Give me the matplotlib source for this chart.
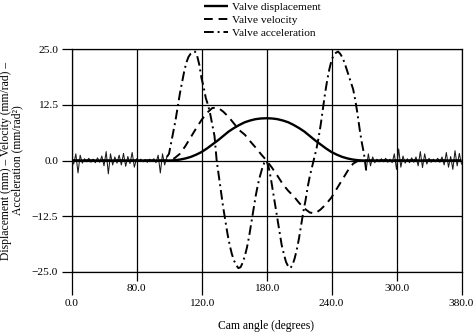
import numpy as np
import matplotlib
matplotlib.use("Agg")
import matplotlib.pyplot as plt

plt.rcParams['font.family'] = ['Liberation Serif', 'DejaVu Serif']

# ---------------- data ----------------
# cam angle grid (degrees) for displacement / velocity (5 deg step)
angle5 = np.arange(0, 365, 5)
displacement = [0]*18 + [
    0.0, 0.05, 0.2, 0.45, 0.8, 1.3, 1.9, 2.7, 3.6, 4.5, 5.5, 6.5, 7.3, 8.0, 8.6, 9.0, 9.3, 9.45,
    9.5,
    9.45, 9.3, 9.0, 8.6, 8.0, 7.3, 6.5, 5.5, 4.5, 3.6, 2.7, 1.9, 1.3, 0.8, 0.45, 0.2, 0.05, 0.0,
] + [0]*18
velocity = [0]*18 + [
    0.0, 0.5, 1.5, 3.2, 5.2, 7.2, 9.1, 10.7, 11.8, 11.9, 11.0, 9.8, 8.3, 6.8, 5.8, 4.3, 2.9, 1.4,
    0.0,
    -1.6, -3.4, -5.3, -6.8, -8.0, -9.5, -10.8, -11.7, -11.9, -11.0, -9.8, -8.3, -6.3, -4.3, -2.3, -0.7, 0.0, 0.0,
] + [0]*18

# cam angle grid (degrees) for acceleration (2 deg step)
angle2 = np.arange(0, 362, 2)
acc_left_noise = [
    0.3, -0.8, 1.5, -2.8, 1.2, -0.6, 0.4, -0.3, 0.5, -0.4, 0.3, -0.5, 0.6, -0.4, 1.0,
    -1.2, 2.0, -3.0, 1.5, -1.0, 0.8, -0.6, 1.2, -1.0, 1.6, -1.3, 0.9, -0.7, 1.8, -1.5,
    0.4, -0.2, 0.3, -0.3, 0.2, -0.4, 0.3, -0.2, 0.4, -0.5, 1.2, -2.8, 1.5, -1.0, 0.8,
]
acc_main = [
    1.5, 4.0, 6.5, 9.0, 12.0, 15.0, 17.5, 20.0, 22.0, 23.3, 24.0, 24.3, 24.5, 23.5, 21.5,
    18.5, 16.5, 14.0, 12.5, 10.5, 8.0, 5.5, 0.0,
    -3.5, -7.0, -10.5, -13.5, -16.5, -19.0, -21.0, -22.5, -23.5, -24.2, -24.0, -23.0, -21.5,
    -19.5, -17.0, -14.0, -11.0, -8.0, -5.5, -3.5, -1.8, -0.5, 0.0,
    -1.5, -4.0, -7.0, -10.0, -13.0, -16.0, -19.0, -21.0, -22.8, -23.8, -24.2, -23.5, -22.0,
    -20.0, -17.5, -14.5, -11.5, -9.0, -6.0, -3.5, -1.5, 0.5, 2.5,
    5.0, 8.0, 11.5, 15.0, 18.0, 20.5, 22.5, 23.7, 24.2, 24.5, 24.0, 23.2, 22.0, 20.5, 19.0,
    17.5, 16.0, 13.5, 10.5, 7.0, 4.0, 1.5,
]
acc_right_noise = [
    -2.2, 1.5, -1.2, 0.8, -0.5, 0.3, -0.3, 0.4, -0.3, 0.5, -0.4, 0.3, -0.5, 1.5, -2.0,
    2.6, -1.5, 1.0, -0.6, 0.4, -0.5, 0.6, -0.4, 0.8, -1.2, 2.0, -1.6, 1.5, -0.8, 0.5,
    -0.4, 0.3, -0.3, 0.5, -0.4, 0.8, -1.0, 1.8, -1.5, 0.9, -2.0, 2.2, -1.2, 1.6, -0.8,
]
acceleration = np.array(acc_left_noise + acc_main + acc_right_noise)

grid_positions = [0, 60, 120, 180, 240, 300, 360]
major_ticks = [0, 120, 240, 360]
major_labels = ['0.0', '120.0', '240.0', '380.0']
minor_ticks = [60, 180, 300]
minor_labels = ['80.0', '180.0', '300.0']
y_ticks = [-25, -12.5, 0, 12.5, 25]
y_labels = ['\u221225.0', '\u221212.5', '0.0', '12.5', '25.0']

# ---------------- figure ----------------
fig = plt.figure(figsize=(4.74, 3.34), dpi=100)
ax = fig.add_axes([71.5/474, 1-271.7/334, 390/474, (271.7-49.3)/334])

in_main = (angle2 >= 88) & (angle2 <= 272)
acc_main_line = np.where(in_main, acceleration, np.nan)
acc_noise_line = np.where(~in_main | (angle2 == 88) | (angle2 == 272), acceleration, np.nan)

ax.plot(angle2, acc_noise_line, color='#1a1a1a', lw=0.75, zorder=3)
l1, = ax.plot(angle5, displacement, color='black', lw=1.7, solid_capstyle='butt', zorder=4)
l2, = ax.plot(angle5, velocity, color='black', lw=1.4, linestyle=(0, (4.5, 3)), zorder=4)
l3, = ax.plot(angle2, acc_main_line, color='black', lw=1.4,
              linestyle=(0, (5, 2, 1, 2)), zorder=4)

ax.set_xlim(0, 360)
ax.set_ylim(-25, 25)

for g in grid_positions:
    ax.axvline(g, color='black', lw=0.9, zorder=1)
for g in y_ticks:
    ax.axhline(g, color='black', lw=0.9, zorder=1)

ax.set_xticks(major_ticks)
ax.set_xticklabels(major_labels)
ax.set_xticks(minor_ticks, minor=True)
ax.set_xticklabels(minor_labels, minor=True)
ax.tick_params(axis='x', which='major', direction='out', length=16.8, width=0.9,
               pad=2.5, labelsize=8.2)
ax.tick_params(axis='x', which='minor', direction='out', length=6.7, width=0.9,
               pad=2.0, labelsize=8.2)
ax.set_yticks(y_ticks)
ax.set_yticklabels(y_labels)
ax.tick_params(axis='y', direction='out', length=7.2, width=0.9, pad=2.5, labelsize=8.2)

for s in ax.spines.values():
    s.set_linewidth(0.9)

fig.text(266/474, 1-326/334, 'Cam angle (degrees)', ha='center', va='center', fontsize=8.4)
fig.text(12/474, 1-160.5/334,
         'Displacement (mm) \u2013 Velocity (mm/rad) \u2013\nAcceleration (mm/rad\u00b2)',
         rotation=90, ha='center', va='center', multialignment='center',
         fontsize=8.4, linespacing=0.95)

fig.legend([l1, l2, l3], ['Valve displacement', 'Valve velocity', 'Valve acceleration'],
           loc='upper left', bbox_to_anchor=(204/474, 1 - 2/334), frameon=False,
           borderpad=0.0, handlelength=2.1, handletextpad=0.35, labelspacing=0.28,
           fontsize=8.2, borderaxespad=0.0)

fig.savefig('out.png', dpi=100)
